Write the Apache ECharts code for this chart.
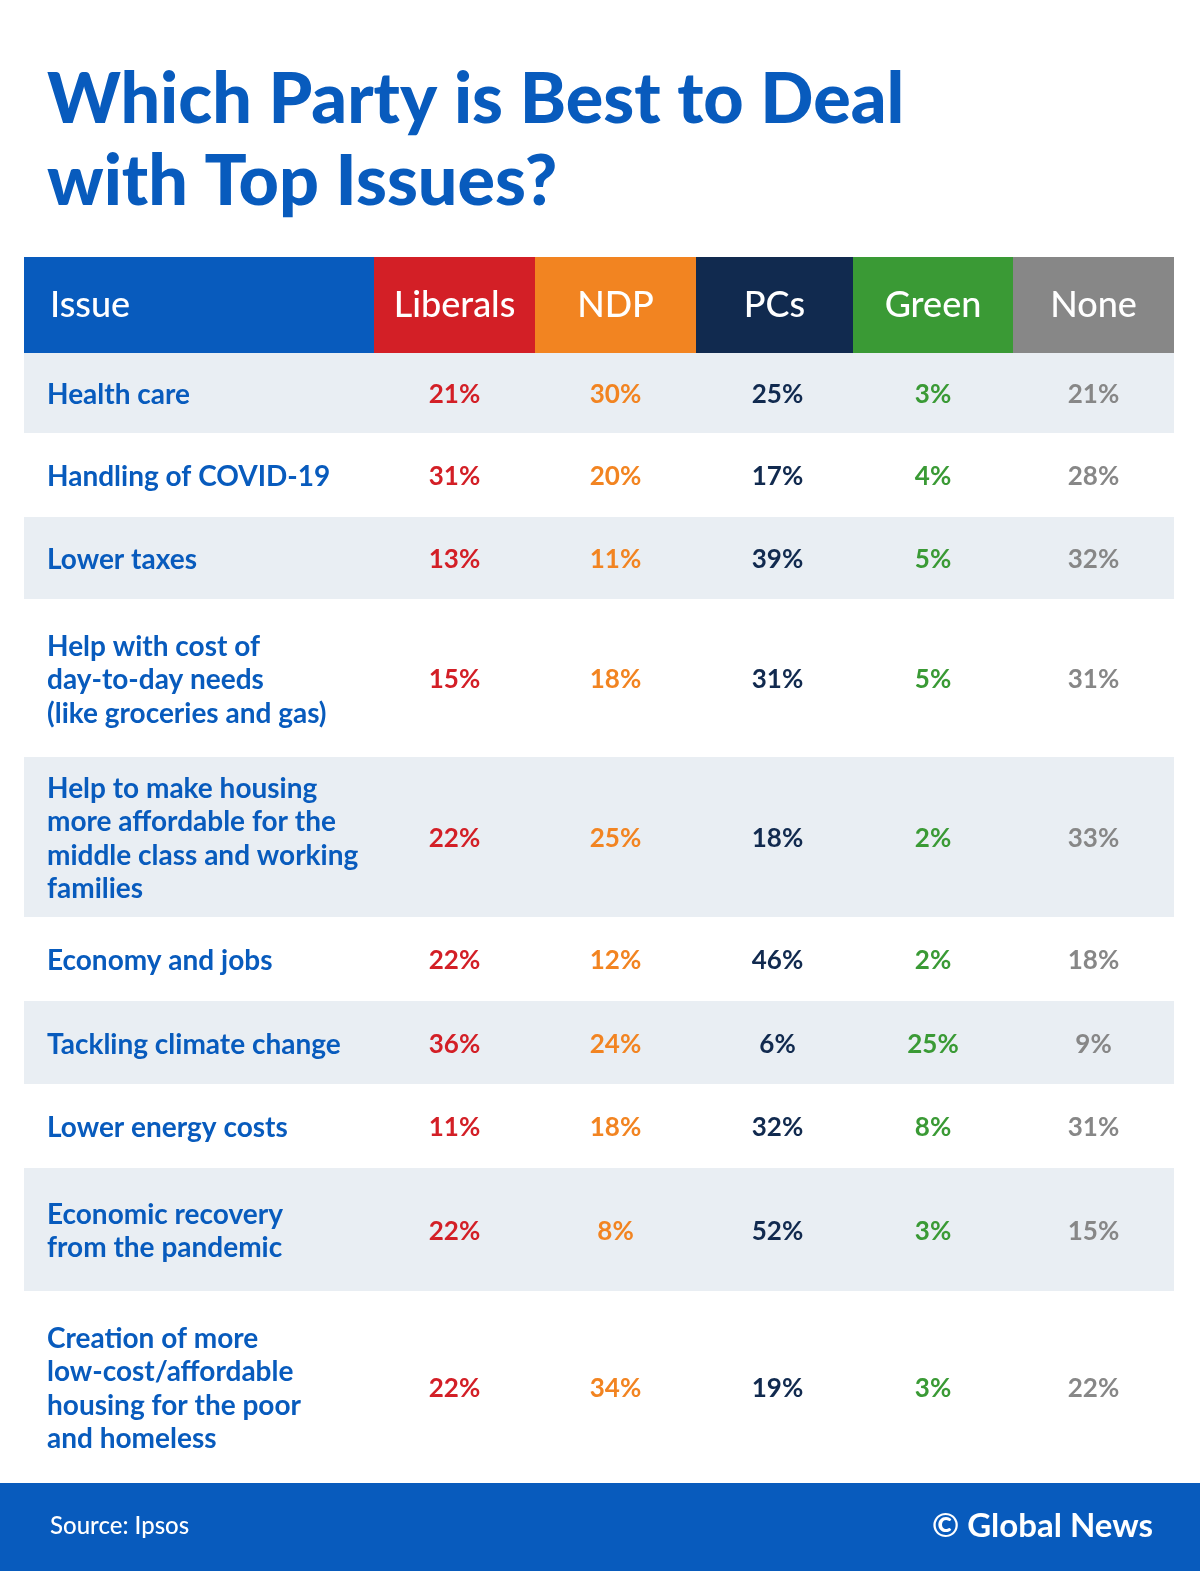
<!DOCTYPE html>
<html><head><meta charset="utf-8">
<script src="https://cdn.jsdelivr.net/npm/echarts@6/dist/echarts.min.js"></script>
<style>html,body{margin:0;padding:0;background:#fff}#c{width:1200px;height:1571px}</style>
</head><body><div id="c"></div>
<script>
// data
var parties = ['Liberals', 'NDP', 'PCs', 'Green', 'None'];
var issues = [
  'Health care',
  'Handling of COVID-19',
  'Lower taxes',
  'Help with cost of\nday-to-day needs\n(like groceries and gas)',
  'Help to make housing\nmore affordable for the\nmiddle class and working\nfamilies',
  'Economy and jobs',
  'Tackling climate change',
  'Lower energy costs',
  'Economic recovery\nfrom the pandemic',
  'Creation of more\nlow-cost/affordable\nhousing for the poor\nand homeless'
];
var liberals = [21, 31, 13, 15, 22, 22, 36, 11, 22, 22];
var ndp      = [30, 20, 11, 18, 25, 12, 24, 18, 8, 34];
var pcs      = [25, 17, 39, 31, 18, 46, 6, 32, 52, 19];
var green    = [3, 4, 5, 5, 2, 2, 25, 8, 3, 3];
var none     = [21, 28, 32, 31, 33, 18, 9, 31, 15, 22];

// layout
var partyColors = ['#d31f26', '#f28421', '#112a4f', '#3a9a35', '#878787'];
var colEdges = [24, 374, 535, 696, 853, 1013, 1174];
var rowEdges = [353, 433, 517, 599, 757, 917, 1001, 1084, 1168, 1291, 1483];
var headerTop = 257;
var blue = '#085bbd';
var font = 'Lato';

var cols = [liberals, ndp, pcs, green, none];
var rows = issues.map(function (s, i) { return [i]; });

var chart = echarts.init(document.getElementById('c'));
chart.setOption({
  backgroundColor: '#fff',
  animation: false,
  grid: { left: 0, right: 0, top: 0, bottom: 0 },
  xAxis: { type: 'value', min: 0, max: 1200, show: false },
  yAxis: { type: 'value', min: 0, max: 1571, inverse: true, show: false },
  title: {
    text: 'Which Party is Best to Deal\nwith Top Issues?',
    left: 42, top: 54,
    textStyle: { color: blue, fontSize: 70, fontWeight: 900, fontFamily: font, lineHeight: 82 }
  },
  graphic: [
    { type: 'rect', shape: { x: 0, y: 1483, width: 1200, height: 88 }, style: { fill: blue } },
    { type: 'text', x: 50, y: 1526, style: { text: 'Source: Ipsos', fill: '#fff', font: '500 24px ' + font, verticalAlign: 'middle' } },
    { type: 'text', x: 1153, y: 1526, style: { text: '© Global News', fill: '#fff', font: 'bold 33px ' + font, align: 'right', verticalAlign: 'middle' } }
  ],
  series: [
    {
      type: 'custom',
      data: [0, 1, 2, 3, 4, 5].map(function (i) { return [i]; }),
      renderItem: function (params, api) {
        var i = api.value(0);
        var p0 = api.coord([colEdges[i], headerTop]);
        var p1 = api.coord([colEdges[i + 1], rowEdges[0]]);
        var fill = i === 0 ? blue : partyColors[i - 1];
        var label = i === 0 ? 'Issue' : parties[i - 1];
        return {
          type: 'group', children: [
            { type: 'rect', shape: { x: p0[0], y: p0[1], width: p1[0] - p0[0], height: p1[1] - p0[1] }, style: { fill: fill } },
            { type: 'text', x: i === 0 ? p0[0] + 26 : (p0[0] + p1[0]) / 2, y: (p0[1] + p1[1]) / 2,
              style: { text: label, fill: '#fff', font: '500 36px ' + font, align: i === 0 ? 'left' : 'center', verticalAlign: 'middle' } }
          ]
        };
      }
    },
    {
      type: 'custom',
      data: rows,
      renderItem: function (params, api) {
        var r = api.value(0);
        var p0 = api.coord([colEdges[0], rowEdges[r]]);
        var p1 = api.coord([colEdges[6], rowEdges[r + 1]]);
        var cy = (p0[1] + p1[1]) / 2 + 2;
        var children = [
          { type: 'rect', shape: { x: p0[0], y: p0[1], width: p1[0] - p0[0], height: p1[1] - p0[1] },
            style: { fill: r % 2 === 0 ? '#e9eef3' : '#ffffff' } },
          { type: 'text', x: p0[0] + 23, y: cy,
            style: { text: issues[r], fill: blue, font: 'bold 28px ' + font, lineHeight: 33.5, align: 'left', verticalAlign: 'middle' } }
        ];
        for (var c = 0; c < 5; c++) {
          var x = (api.coord([colEdges[c + 1], 0])[0] + api.coord([colEdges[c + 2], 0])[0]) / 2;
          if (c === 2) x += 3;
          children.push({ type: 'text', x: x, y: cy,
            style: { text: cols[c][r] + '%', fill: partyColors[c], font: 'bold 26px ' + font, align: 'center', verticalAlign: 'middle' } });
        }
        return { type: 'group', children: children };
      }
    }
  ]
});
</script></body></html>
